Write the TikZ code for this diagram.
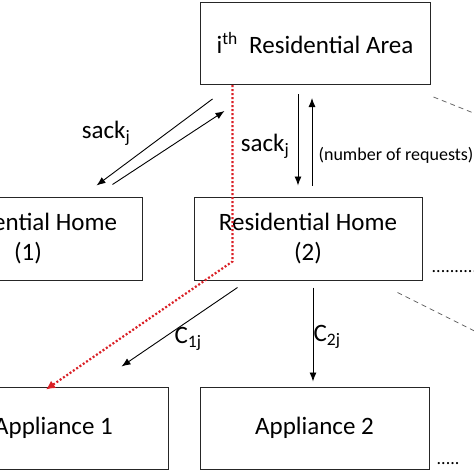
\documentclass[tikz,border=0pt]{standalone}
\usepackage{fontspec}
\setmainfont{Carlito}
\usetikzlibrary{arrows.meta,calc}
\tikzset{>={Latex[width=7pt,length=9pt]}}
\definecolor{reddot}{RGB}{218,32,38}
\tikzstyle{block} = [rectangle, draw=black!85, line width=1pt, minimum width=229pt,
    minimum height=82pt, align=center, font=\fontsize{25}{30}\selectfont]
\tikzstyle{line} = [draw, ->, line width=0.9pt]
\tikzstyle{note} = [inner sep=0pt, font=\fontsize{25}{30}\selectfont]
\tikzstyle{smallnote} = [inner sep=0pt, font=\fontsize{18}{20}\selectfont]
\tikzstyle{dashline} = [draw=black!60, line width=0.8pt, dash pattern=on 5pt off 4pt]
\tikzstyle{redline} = [draw=reddot, ->, >={Latex[width=9pt,length=9pt]}, line width=2.2pt,
    dash pattern=on 2pt off 2pt]

\begin{document}
\begin{tikzpicture}[x=1pt, y=1pt]
    \useasboundingbox (0,0) rectangle (474,-474);
    \clip (0,0) rectangle (474,-474);

    \node[block, minimum width=230pt] (area) at (315,-43.5) {i\textsuperscript{th}\ \ Residential Area};
    \node[block, minimum width=228pt, minimum height=83pt] (home1) at (28,-238.5) {Residential Home\\(1)};
    \node[block, minimum width=228pt, minimum height=83pt] (home2) at (308,-238.5) {Residential Home\\(2)};
    \node[block] (app1) at (53.5,-428) {Appliance 1};
    \node[block] (app2) at (314.5,-428) {Appliance 2};

    % end points of the messages
    \coordinate (a1s) at ($(area.south west)+(13,-14)$);
    \coordinate (a1e) at ($(home1.north east)+(-46,11)$);
    \coordinate (a2s) at ($(home1.north east)+(-30,12)$);
    \coordinate (a2e) at ($(area.south west)+(25,-26)$);
    \coordinate (a3s) at ($(area.south)+(-17,-9)$);
    \coordinate (a3e) at ($(home2.north)+(-10,11)$);
    \coordinate (a4s) at ($(home2.north)+(4,11)$);
    \coordinate (a4e) at ($(area.south)+(-3,-13)$);
    \coordinate (b1s) at ($(home2.south west)+(44,-7)$);
    \coordinate (b1e) at ($(app1.north east)+(-47,20)$);
    \coordinate (b2s) at ($(home2.south)+(5,-7)$);
    \coordinate (b2e) at ($(app2.north)+(-1.5,5)$);

    \path [line] (a1s) -- (a1e);
    \path [line] (a2s) -- (a2e);
    \path [line] (a3s) -- (a3e);
    \path [line] (a4s) -- (a4e);
    \path [line] (b1s) -- (b1e);
    \path [line] (b2s) -- (b2e);

    \node[note] (sack1) at (106,-133) {sack\textsubscript{j}};
    \node[note] (sack2) at (265,-146) {sack\textsubscript{j}};
    \node[smallnote] (nreq) at (396,-155) {(number of requests)};
    \node[note] (c1) at (188,-339) {C\textsubscript{1j}};
    \node[note] (c2) at (327,-337) {C\textsubscript{2j}};

    % path of the request
    \coordinate (rs) at ($(area.south west)+(33,0)$);
    \coordinate (rb) at ($(home2.south west)+(39,19)$);
    \coordinate (re) at ($(app1.north)+(-7.5,-3)$);
    \path [redline] (rs) -- (rb) -- (re);

    % more areas, homes and appliances
    \coordinate (d1s) at ($(area.south east)+(3,-12)$);
    \coordinate (d1e) at ($(d1s)+(50,-20)$);
    \coordinate (d2s) at ($(home2.south east)+(-25,-12)$);
    \coordinate (d2e) at ($(d2s)+(84,-42)$);
    \path [dashline] (d1s) -- (d1e);
    \path [dashline] (d2s) -- (d2e);
    \node[smallnote, anchor=base west] (more1) at ($(home2.south east)+(9,8)$) {..........};
    \node[smallnote, anchor=base west] (more2) at ($(app2.south east)+(7,5)$) {.....};
\end{tikzpicture}
\end{document}
